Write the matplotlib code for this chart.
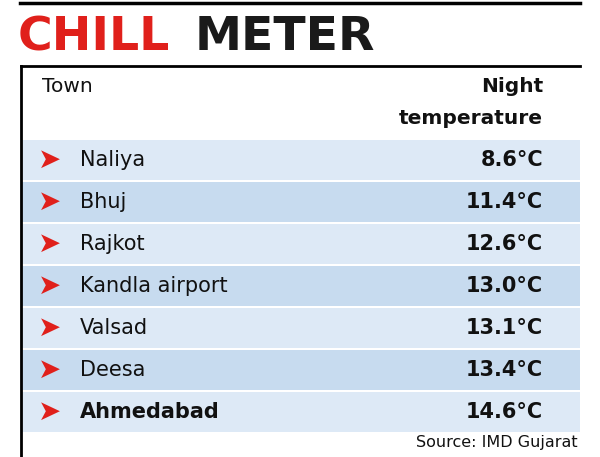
import matplotlib
matplotlib.use("Agg")
import matplotlib.pyplot as plt
from matplotlib.patches import Rectangle

towns = ["Naliya", "Bhuj", "Rajkot", "Kandla airport", "Valsad", "Deesa", "Ahmedabad"]
temps = [8.6, 11.4, 12.6, 13.0, 13.1, 13.4, 14.6]
bold_rows = ["Ahmedabad"]

W, H = 600, 457
fig = plt.figure(figsize=(W/100, H/100), dpi=100)
ax = fig.add_axes([0, 0, 1, 1])
ax.set_xlim(0, W); ax.set_ylim(H, 0); ax.axis("off")
fam = ["DejaVu Sans"]

ax.plot([20, 580], [3, 3], color="black", lw=2.5)
ax.text(18, 38, "CHILL", color="#e0201b", fontsize=34, fontweight="bold", va="center", family=fam)
ax.text(195, 38, "METER", color="#1a1a1a", fontsize=34, fontweight="bold", va="center", family=fam)

ax.plot([21, 580], [66, 66], color="black", lw=2)
ax.plot([21, 21], [66, H], color="black", lw=2)
ax.text(42, 87, "Town", fontsize=14.5, va="center", family=fam, color="#111")
ax.text(543, 87, "Night", fontsize=14.5, fontweight="bold", va="center", ha="right", family=fam, color="#111")
ax.text(543, 119, "temperature", fontsize=14.5, fontweight="bold", va="center", ha="right", family=fam, color="#111")

top, rh = 139, 42
cols = ["#dde9f6", "#c7dbef"]
for i, (t, v) in enumerate(zip(towns, temps)):
    y0 = top + i*rh
    ax.add_patch(Rectangle((22, y0+1), 558, rh-2, facecolor=cols[i % 2], edgecolor="none"))
    yc = y0 + rh/2
    ax.text(38, yc, "➤", color="#e0201b", fontsize=20, va="center", family=["DejaVu Sans"])
    w = "bold" if t in bold_rows else "normal"
    ax.text(80, yc, t, fontsize=15, fontweight=w, va="center", family=fam, color="#111")
    ax.text(543, yc, f"{v:.1f}°C", fontsize=15, fontweight="bold", va="center", ha="right", family=fam, color="#111")

ax.text(578, 443, "Source: IMD Gujarat", fontsize=11.5, va="center", ha="right", family=fam, color="#111")
fig.savefig("out.png", dpi=100)
